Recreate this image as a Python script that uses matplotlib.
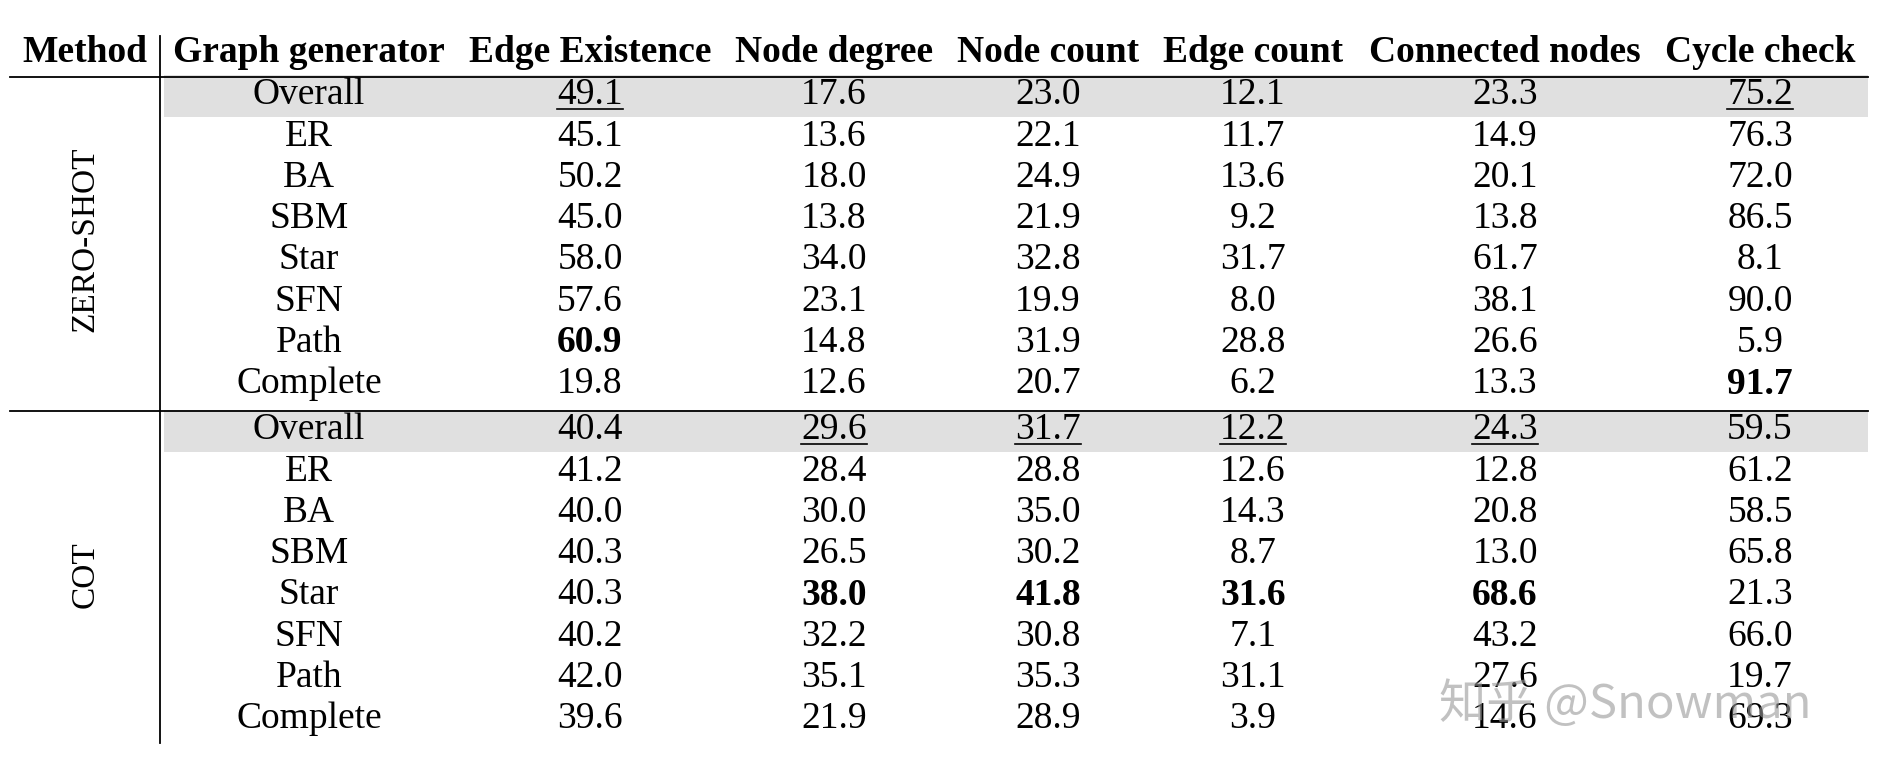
import matplotlib
matplotlib.use("Agg")
import matplotlib.pyplot as plt

columns = ["Edge Existence", "Node degree", "Node count", "Edge count", "Connected nodes", "Cycle check"]
generators = ["Overall", "ER", "BA", "SBM", "Star", "SFN", "Path", "Complete"]
zero_shot = [
    [49.1, 17.6, 23.0, 12.1, 23.3, 75.2],
    [45.1, 13.6, 22.1, 11.7, 14.9, 76.3],
    [50.2, 18.0, 24.9, 13.6, 20.1, 72.0],
    [45.0, 13.8, 21.9, 9.2, 13.8, 86.5],
    [58.0, 34.0, 32.8, 31.7, 61.7, 8.1],
    [57.6, 23.1, 19.9, 8.0, 38.1, 90.0],
    [60.9, 14.8, 31.9, 28.8, 26.6, 5.9],
    [19.8, 12.6, 20.7, 6.2, 13.3, 91.7],
]
cot = [
    [40.4, 29.6, 31.7, 12.2, 24.3, 59.5],
    [41.2, 28.4, 28.8, 12.6, 12.8, 61.2],
    [40.0, 30.0, 35.0, 14.3, 20.8, 58.5],
    [40.3, 26.5, 30.2, 8.7, 13.0, 65.8],
    [40.3, 38.0, 41.8, 31.6, 68.6, 21.3],
    [40.2, 32.2, 30.8, 7.1, 43.2, 66.0],
    [42.0, 35.1, 35.3, 31.1, 27.6, 19.7],
    [39.6, 21.9, 28.9, 3.9, 14.6, 69.3],
]
zs_bold = [(6, 0), (7, 5)]
zs_under = [(0, 0), (0, 5)]
cot_bold = [(4, 1), (4, 2), (4, 3), (4, 4)]
cot_under = [(0, 1), (0, 2), (0, 3), (0, 4)]

W, H = 1878, 772
fig = plt.figure(figsize=(W / 100, H / 100), dpi=100)
ax = fig.add_axes([0, 0, 1, 1])
ax.set_xlim(0, W); ax.set_ylim(H, 0); ax.axis("off")
FONT = "Liberation Serif"; FS = 27

col_x = [590, 834, 1048, 1253, 1505, 1760]
gen_x = 309
hdr_y = 52
row_h = 41.3
blocks = [(zero_shot, zs_bold, zs_under, 95, "ZERO-SHOT"), (cot, cot_bold, cot_under, 430, "COT")]

ax.text(85, hdr_y, "Method", ha="center", va="center", fontsize=FS, fontweight="bold", family=FONT)
ax.text(gen_x, hdr_y, "Graph generator", ha="center", va="center", fontsize=FS, fontweight="bold", family=FONT)
for x, c in zip(col_x, columns):
    ax.text(x, hdr_y, c, ha="center", va="center", fontsize=FS, fontweight="bold", family=FONT)

ax.plot([10, 1868], [77, 77], color="black", lw=1.3)
ax.plot([10, 1868], [411, 411], color="black", lw=1.3)
ax.plot([160, 160], [36, 743], color="black", lw=1.3)

underlined = []
for data, bold, under, y0, label in blocks:
    ax.add_patch(plt.Rectangle((164, y0 - row_h / 2 + 1), 1868 - 164, row_h, color="#e0e0e0", lw=0, zorder=0))
    ax.text(85, y0 + row_h * 3.5, label, ha="center", va="center", rotation=90, fontsize=FS - 3, family=FONT)
    for i, g in enumerate(generators):
        y = y0 + i * row_h
        ax.text(gen_x, y, g, ha="center", va="center", fontsize=FS, family=FONT)
        for j, v in enumerate(data[i]):
            t = ax.text(col_x[j], y, f"{v:.1f}", ha="center", va="center", fontsize=FS, family=FONT,
                        fontweight="bold" if (i, j) in bold else "normal")
            if (i, j) in under:
                underlined.append(t)

fig.canvas.draw()
r = fig.canvas.get_renderer()
inv = ax.transData.inverted()
for t in underlined:
    bb = t.get_window_extent(r)
    (x0, y0d), (x1, _) = inv.transform([[bb.x0, bb.y0], [bb.x1, bb.y1]])
    ax.plot([x0, x1], [y0d - 3, y0d - 3], color="black", lw=1.2)

ax.text(1625, 705, "知乎 @Snowman", ha="center", va="center", fontsize=34, color="#999999", alpha=0.6,
        family=["Noto Sans CJK SC", "DejaVu Sans"])

fig.savefig("out.png", dpi=100)
